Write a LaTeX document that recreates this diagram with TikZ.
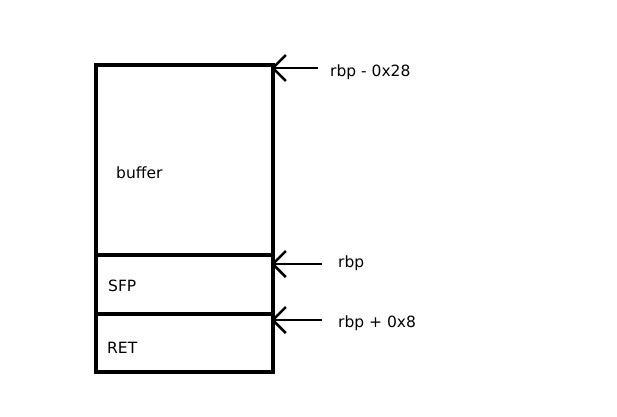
\documentclass[tikz,border=0pt]{standalone}
\usepackage{fontspec}
\setmainfont{DejaVu Sans}
\usetikzlibrary{arrows.meta}
\begin{document}
\begin{tikzpicture}[x=1pt,y=-1pt,
  box/.style={draw,line width=4pt,minimum width=177pt,inner sep=0pt},
  lbl/.style={font=\fontsize{15.5}{18}\selectfont,anchor=west,inner sep=0pt},
  ptr/.style={line width=2.5pt,-{Straight Barb[length=13pt,width=26pt,line width=2.5pt]}}]
\useasboundingbox (0,0) rectangle (617,416);
\node[box,minimum height=190pt,anchor=north west] (buf) at (94,63) {};
\node[box,minimum height=59pt,anchor=north west] (sfp) at (94,253) {};
\node[box,minimum height=58pt,anchor=north west] (ret) at (94,312) {};
\node[lbl] (tb) at (116,173) {buffer};
\node[lbl] (ts) at (108,286) {SFP};
\node[lbl] (tr) at (107,348) {RET};
\node[lbl] (l1) at (330,72) {rbp - 0x28};
\node[lbl] (l2) at (338,263) {rbp};
\node[lbl] (l3) at (338,323) {rbp + 0x8};
\coordinate (a1) at (318,68); \coordinate (b1) at (271,68);
\coordinate (a2) at (322,264); \coordinate (b2) at (271,264);
\coordinate (a3) at (322,320); \coordinate (b3) at (271,320);
\draw[ptr] (a1) -- (b1);
\draw[ptr] (a2) -- (b2);
\draw[ptr] (a3) -- (b3);
\end{tikzpicture}
\end{document}
